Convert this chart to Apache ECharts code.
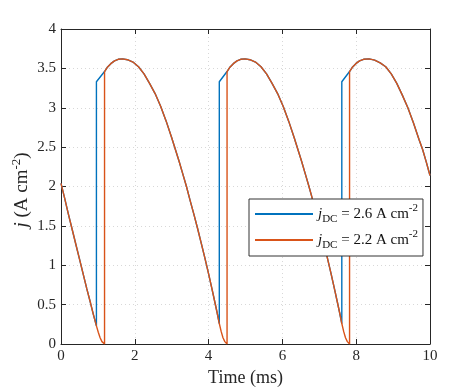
<!DOCTYPE html>
<html>
<head>
<meta charset="utf-8">
<script src="https://cdn.jsdelivr.net/npm/echarts@6/dist/echarts.min.js"></script>
<style>
html,body{margin:0;padding:0;background:#fff;}
#chart{width:474px;height:392px;}
</style>
</head>
<body>
<div id="chart"></div>
<script>
// x ticks (ms) and y ticks (A cm^-2)
const xTicks = [0, 2, 4, 6, 8, 10];
const yTicks = [0, 0.5, 1, 1.5, 2, 2.5, 3, 3.5, 4];

// legend labels
const seriesNames = ['jDC = 2.6 A cm-2', 'jDC = 2.2 A cm-2'];

// common descent at start (both currents)
const descent1 = [[0,2.04],[0.1,1.85],[0.2,1.65],[0.3,1.46],[0.4,1.27],[0.5,1.08],[0.6,0.89],[0.7,0.70],[0.8,0.52],[0.88,0.37],[0.96,0.23]];
// orange-only tail to zero then jump
const tailOrange1 = [[1.01,0.15],[1.06,0.08],[1.11,0.03],[1.16,0.005],[1.18,0]];
const tailOrange2 = [[4.34,0.16],[4.39,0.08],[4.44,0.03],[4.48,0.005],[4.50,0]];
const tailOrange3 = [[7.66,0.16],[7.71,0.08],[7.76,0.03],[7.80,0.005],[7.82,0]];
// blue jump tops
const blueJump1 = [[0.96,3.33]];
const blueJump2 = [[4.29,3.33]];
const blueJump3 = [[7.61,3.33]];
// common arcs (both currents) starting at orange jump top
const arc1 = [[1.18,3.46],[1.25,3.51],[1.35,3.56],[1.45,3.595],[1.55,3.615],[1.67,3.62],[1.8,3.61],[1.95,3.58],[2.1,3.52],[2.25,3.43],[2.4,3.31],[2.55,3.18],[2.7,3.02],[2.85,2.83],[3.0,2.62],[3.1,2.47],[3.2,2.32],[3.3,2.16],[3.4,2.00],[3.5,1.82],[3.6,1.65],[3.7,1.47],[3.8,1.28],[3.9,1.09],[4.0,0.89],[4.1,0.68],[4.17,0.53],[4.23,0.40],[4.29,0.26]];
const arc2 = [[4.50,3.46],[4.57,3.51],[4.67,3.56],[4.77,3.595],[4.87,3.615],[4.99,3.62],[5.12,3.61],[5.27,3.58],[5.42,3.52],[5.57,3.43],[5.72,3.31],[5.87,3.18],[6.02,3.02],[6.17,2.83],[6.32,2.62],[6.42,2.47],[6.52,2.32],[6.62,2.16],[6.72,2.00],[6.82,1.83],[6.92,1.66],[7.02,1.48],[7.12,1.29],[7.22,1.09],[7.32,0.89],[7.42,0.68],[7.49,0.53],[7.55,0.40],[7.61,0.26]];
const arc3 = [[7.82,3.46],[7.89,3.51],[7.99,3.56],[8.09,3.595],[8.2,3.615],[8.35,3.62],[8.5,3.605],[8.65,3.57],[8.8,3.52],[8.95,3.43],[9.1,3.31],[9.25,3.16],[9.4,3.0],[9.55,2.81],[9.7,2.6],[9.8,2.47],[9.9,2.31],[10,2.14]];

const blueData = [].concat(descent1, blueJump1, arc1, blueJump2, arc2, blueJump3, arc3);
const orangeData = [].concat(descent1, tailOrange1, arc1, tailOrange2, arc2, tailOrange3, arc3);

const serif = '"Liberation Serif", "DejaVu Serif", serif';
const axisColor = '#262626';

function mkXAxis(pos, main) {
  return {
    type: 'value', position: pos, min: xTicks[0], max: xTicks[xTicks.length-1], interval: 2,
    axisLine: {show: true, onZero: false, lineStyle: {color: axisColor, width: 1}},
    axisTick: {show: true, inside: true, length: 5, lineStyle: {color: axisColor}},
    axisLabel: {show: main, color: axisColor, fontFamily: serif, fontSize: 15, margin: 5},
    splitLine: {show: main, lineStyle: {color: '#d8d8d8', type: [1, 3], width: 1}},
    name: main ? 'Time (ms)' : '', nameLocation: 'middle', nameGap: 25,
    nameTextStyle: {color: axisColor, fontFamily: serif, fontSize: 18}
  };
}
function mkYAxis(pos, main) {
  return {
    type: 'value', position: pos, min: yTicks[0], max: yTicks[yTicks.length-1], interval: 0.5,
    axisLine: {show: true, onZero: false, lineStyle: {color: axisColor, width: 1}},
    axisTick: {show: true, inside: true, length: 5, lineStyle: {color: axisColor}},
    axisLabel: {show: main, color: axisColor, fontFamily: serif, fontSize: 15, margin: 5},
    splitLine: {show: main, lineStyle: {color: '#d8d8d8', type: [1, 3], width: 1}}
  };
}

const legendRich = {
  i: {fontFamily: serif, fontStyle: 'italic', fontSize: 15, color: '#111', lineHeight: 22, verticalAlign: 'middle'},
  sub: {fontFamily: serif, fontSize: 11, color: '#111', lineHeight: 22, verticalAlign: 'bottom'},
  n: {fontFamily: serif, fontSize: 15, color: '#111', lineHeight: 22, verticalAlign: 'middle'},
  sup: {fontFamily: serif, fontSize: 11, color: '#111', lineHeight: 22, verticalAlign: 'top'}
};

const chart = echarts.init(document.getElementById('chart'), null, {renderer: 'canvas'});
chart.setOption({
  animation: false,
  backgroundColor: '#ffffff',
  grid: {left: 61, top: 29, width: 369, height: 317, containLabel: false},
  xAxis: [mkXAxis('bottom', true), mkXAxis('top', false)],
  yAxis: [mkYAxis('left', true), mkYAxis('right', false)],
  legend: {
    left: 249, top: 199, orient: 'vertical',
    backgroundColor: '#ffffff', borderColor: '#333', borderWidth: 1,
    padding: [4, 5, 5, 6], itemGap: 4,
    itemWidth: 58, itemHeight: 2, icon: 'rect',
    data: seriesNames,
    formatter: function (name) {
      const v = name.indexOf('2.6') >= 0 ? '2.6' : '2.2';
      return '{i|j}{sub|DC}{n| = ' + v + ' A cm}{sup|-2}';
    },
    textStyle: {rich: legendRich}
  },
  graphic: [{
    type: 'text', x: 22, y: 190, rotation: Math.PI / 2,
    style: {
      text: '{i|j}{n| (A cm}{sup|-2}{n|)}',
      align: 'center', verticalAlign: 'middle',
      rich: {
        i: {fontFamily: serif, fontStyle: 'italic', fontSize: 19, fill: axisColor, lineHeight: 24, verticalAlign: 'middle'},
        n: {fontFamily: serif, fontSize: 19, fill: axisColor, lineHeight: 24, verticalAlign: 'middle'},
        sup: {fontFamily: serif, fontSize: 13, fill: axisColor, lineHeight: 24, verticalAlign: 'top'}
      }
    }
  }],
  series: [
    {name: seriesNames[0], type: 'line', data: blueData, symbol: 'none', xAxisIndex: 0, yAxisIndex: 0,
     lineStyle: {color: '#0072BD', width: 1.4}, itemStyle: {color: '#0072BD'}, z: 2},
    {name: seriesNames[1], type: 'line', data: orangeData, symbol: 'none', xAxisIndex: 0, yAxisIndex: 0,
     lineStyle: {color: '#D95319', width: 1.4}, itemStyle: {color: '#D95319'}, z: 3}
  ]
});
</script>
</body>
</html>
